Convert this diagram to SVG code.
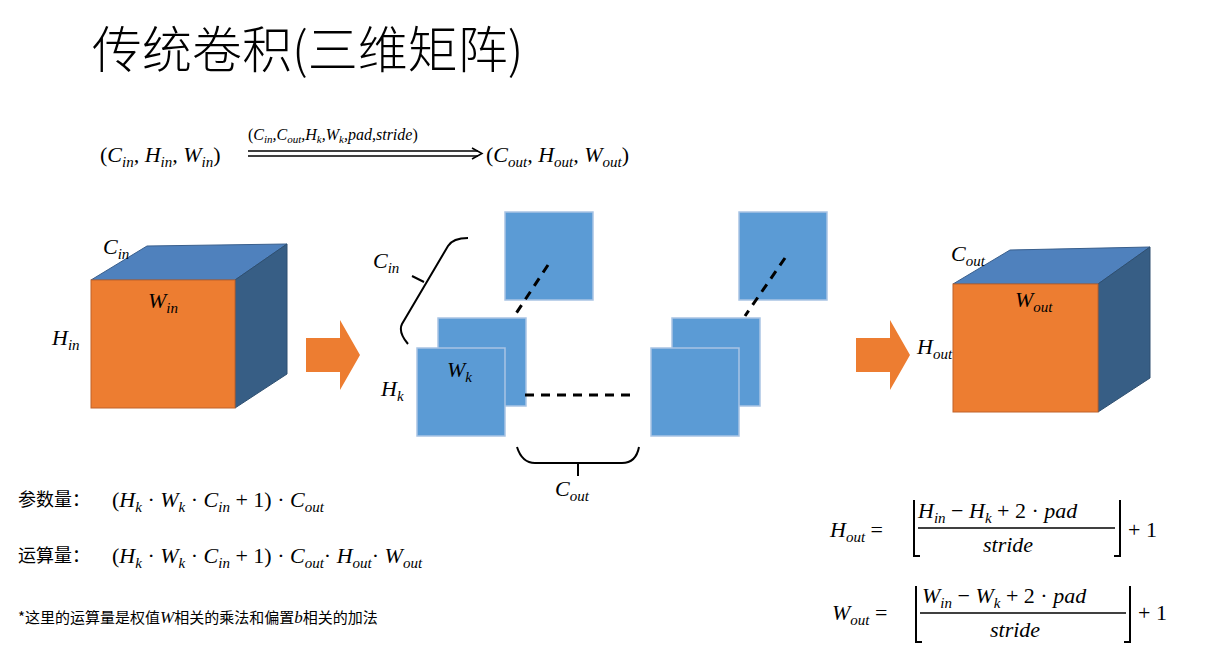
<svg xmlns="http://www.w3.org/2000/svg" width="1228" height="656" viewBox="0 0 1228 656">
<style>
.m{font-family:"Liberation Serif",serif;font-style:italic;font-size:22px;fill:#000}
.s{font-size:15px}
.r{font-style:normal}
.cn{font-family:"Noto Sans CJK SC",sans-serif;font-size:18px}
.sq{fill:#5b9bd5;stroke:#a9c4e4;stroke-width:1.5}
.dash{stroke:#000;stroke-width:3;stroke-dasharray:9,7;fill:none}
.br{stroke:#000;stroke-width:2;fill:none}
</style>
<rect width="1228" height="656" fill="#fff"/>
<text x="92" y="68" font-family="Noto Sans CJK SC,sans-serif" font-size="50" font-weight="300">传统卷积(三维矩阵)</text>
<g id="topformula">
<text x="100" y="162" class="m"><tspan class="r">(</tspan>C<tspan class="s" dy="5">in</tspan><tspan dy="-5">, H</tspan><tspan class="s" dy="5">in</tspan><tspan dy="-5">, W</tspan><tspan class="s" dy="5">in</tspan><tspan dy="-5" class="r">)</tspan></text>
<text x="248" y="140" class="m" style="font-size:16px"><tspan class="r">(</tspan>C<tspan style="font-size:11px" dy="3">in</tspan><tspan dy="-3">,C</tspan><tspan style="font-size:11px" dy="3">out</tspan><tspan dy="-3">,H</tspan><tspan style="font-size:11px" dy="3">k</tspan><tspan dy="-3">,W</tspan><tspan style="font-size:11px" dy="3">k</tspan><tspan dy="-3">,pad,stride</tspan><tspan class="r">)</tspan></text>
<path d="M248 151H478M248 156H478" stroke="#000" stroke-width="1.5"/>
<path d="M472 148L482 153.5L472 159" stroke="#000" stroke-width="1.5" fill="none"/>
<text x="486" y="162" class="m"><tspan class="r">(</tspan>C<tspan class="s" dy="5">out</tspan><tspan dy="-5">, H</tspan><tspan class="s" dy="5">out</tspan><tspan dy="-5">, W</tspan><tspan class="s" dy="5">out</tspan><tspan dy="-5" class="r">)</tspan></text>
</g>
<g id="inputCube">
<polygon points="91,280 147,246 287,244 235,280" fill="#4f81bd" stroke="#3a5f8c"/>
<polygon points="235,280 287,244 287,374 235,408" fill="#375e85" stroke="#2e4f70"/>
<rect x="91" y="280" width="144" height="128" fill="#ed7d31" stroke="#c0632a"/>
<text x="103" y="254" class="m">C<tspan class="s" dy="5">in</tspan></text>
<text x="148" y="308" class="m">W<tspan class="s" dy="5">in</tspan></text>
<text x="52" y="345" class="m">H<tspan class="s" dy="5">in</tspan></text>
</g>
<g id="outputCube">
<polygon points="953,284 1010,250 1150,247 1098,284" fill="#4f81bd" stroke="#3a5f8c"/>
<polygon points="1098,284 1150,247 1150,378 1098,412" fill="#375e85" stroke="#2e4f70"/>
<rect x="953" y="284" width="145" height="128" fill="#ed7d31" stroke="#c0632a"/>
<text x="951" y="261" class="m">C<tspan class="s" dy="5">out</tspan></text>
<text x="1015" y="307" class="m">W<tspan class="s" dy="5">out</tspan></text>
<text x="917" y="354" class="m">H<tspan class="s" dy="5">out</tspan></text>
</g>
<g id="arrows">
<polygon points="306,338 340,338 340,320 360,355 340,390 340,372 306,372" fill="#ed7d31"/>
<polygon points="856,338 890,338 890,320 910,355 890,390 890,372 856,372" fill="#ed7d31"/>
</g>
<g id="kernels">
<rect class="sq" x="505" y="212" width="88" height="88"/>
<rect class="sq" x="438" y="318" width="88" height="88"/>
<rect class="sq" x="417" y="348" width="88" height="88"/>
<rect class="sq" x="739" y="212" width="88" height="88"/>
<rect class="sq" x="672" y="318" width="88" height="88"/>
<rect class="sq" x="651" y="348" width="88" height="88"/>
<text x="447" y="377" class="m">W<tspan class="s" dy="5">k</tspan></text>
<text x="381" y="396" class="m">H<tspan class="s" dy="5">k</tspan></text>
<text x="373" y="268" class="m">C<tspan class="s" dy="5">in</tspan></text>
<text x="555" y="496" class="m">C<tspan class="s" dy="5">out</tspan></text>
</g>
<g id="connectors">
<path class="dash" d="M548 265L515 315"/>
<path class="dash" d="M785 258L745 316"/>
<path class="dash" d="M525 395H636"/>
<path class="br" d="M408 344Q398 332 402 324L448 246Q453 238 468 238"/>
<path class="br" d="M412 276L424 282"/>
<path class="br" d="M517 447Q522 463 535 463H622Q636 463 639 447M578 463V476"/>
</g>
<g id="formulas">
<text x="18" y="506" class="cn">参数量：</text>
<text x="112" y="507" class="m"><tspan class="r">(</tspan>H<tspan class="s" dy="5">k</tspan><tspan dy="-5" class="r"> · </tspan>W<tspan class="s" dy="5">k</tspan><tspan dy="-5" class="r"> · </tspan>C<tspan class="s" dy="5">in</tspan><tspan dy="-5" class="r"> + 1) · </tspan>C<tspan class="s" dy="5">out</tspan></text>
<text x="18" y="562" class="cn">运算量：</text>
<text x="112" y="563" class="m"><tspan class="r">(</tspan>H<tspan class="s" dy="5">k</tspan><tspan dy="-5" class="r"> · </tspan>W<tspan class="s" dy="5">k</tspan><tspan dy="-5" class="r"> · </tspan>C<tspan class="s" dy="5">in</tspan><tspan dy="-5" class="r"> + 1) · </tspan>C<tspan class="s" dy="5">out</tspan><tspan dy="-5" class="r">· </tspan>H<tspan class="s" dy="5">out</tspan><tspan dy="-5" class="r">· </tspan>W<tspan class="s" dy="5">out</tspan></text>
<text x="18" y="623" font-family="Noto Sans CJK SC,sans-serif" font-size="15">*这里的运算量是权值<tspan class="m" style="font-size:17px">W</tspan>相关的乘法和偏置<tspan class="m" style="font-size:17px">b</tspan>相关的加法</text>
<text x="830" y="537" class="m">H<tspan class="s" dy="5">out</tspan><tspan dy="-5" class="r"> =</tspan></text>
<path class="br" d="M914 500V556H920M1120 500V556H1114"/>
<path d="M918 528H1115" stroke="#000" stroke-width="1.5"/>
<text x="918" y="518" class="m">H<tspan class="s" dy="5">in</tspan><tspan dy="-5" class="r"> − </tspan>H<tspan class="s" dy="5">k</tspan><tspan dy="-5" class="r"> + 2 · </tspan>pad</text>
<text x="983" y="552" class="m">stride</text>
<text x="1128" y="537" class="m r">+ 1</text>
<text x="832" y="620" class="m">W<tspan class="s" dy="5">out</tspan><tspan dy="-5" class="r"> =</tspan></text>
<path class="br" d="M916 586V642H922M1130 586V642H1124"/>
<path d="M920 613H1126" stroke="#000" stroke-width="1.5"/>
<text x="922" y="603" class="m">W<tspan class="s" dy="5">in</tspan><tspan dy="-5" class="r"> − </tspan>W<tspan class="s" dy="5">k</tspan><tspan dy="-5" class="r"> + 2 · </tspan>pad</text>
<text x="990" y="637" class="m">stride</text>
<text x="1138" y="620" class="m r">+ 1</text>
</g>
</svg>
